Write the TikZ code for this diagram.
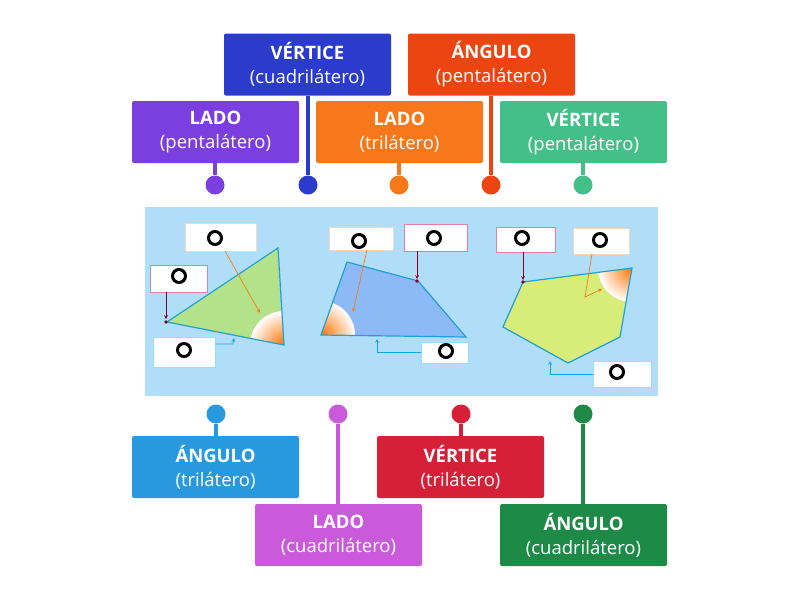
\documentclass[tikz,border=0pt]{standalone}
\usepackage{fontspec}
\setmainfont{Open Sans}
\begin{document}
\begin{tikzpicture}[x=1pt,y=-1pt,
 lab/.style={fill=#1,rounded corners=2pt,text=white,align=center,inner sep=0pt,minimum width=167pt,minimum height=62pt,font=\fontsize{18.5}{24}\selectfont},
 stem/.style={draw=#1,line width=4pt},
 dotc/.style={circle,fill=#1,inner sep=0pt,minimum size=19pt},
 ansbox/.style={draw=#1,fill=white,line width=0.8pt,inner sep=0pt},
 ring/.style={circle,draw=black,line width=3pt,inner sep=0pt,minimum size=13pt},
 poly/.style={draw=cyan!70!teal,line width=1.2pt},
 pa/.style={draw=purple!70!black,line width=0.7pt,->,>=stealth},
 oa/.style={draw=orange!80!brown,line width=0.7pt,->,>=stealth},
 ca/.style={draw=cyan!80!teal,line width=0.7pt,->,>=stealth}]
\useasboundingbox (0,0) rectangle (800,600);
\definecolor{cpur}{HTML}{7B3FE0}\definecolor{cblu}{HTML}{2B3BCB}
\definecolor{cora}{HTML}{F7781A}\definecolor{cred}{HTML}{EC4512}
\definecolor{cgrn}{HTML}{45BF88}\definecolor{clbl}{HTML}{2899DE}
\definecolor{corc}{HTML}{C95ADA}\definecolor{ccri}{HTML}{D52038}
\definecolor{cdgr}{HTML}{1E8A48}\definecolor{bgc}{HTML}{B0DDF8}
\definecolor{ftri}{HTML}{B4E28A}\definecolor{fquad}{HTML}{8DBAF6}\definecolor{fpen}{HTML}{D8EC7A}
% picture
\fill[bgc] (145,207) rectangle (658,396);
% triangle
\fill[ftri] (167,322)--(278,248)--(284,345)--cycle;
\begin{scope}\clip (167,322)--(278,248)--(284,345)--cycle;
\shade[inner color=orange!90!red,outer color=white] (284,345) circle (34);\end{scope}
\draw[poly] (167,322)--(278,248)--(284,345)--cycle;
% quad
\fill[fquad] (347,262)--(418,281)--(466,337)--(321,335)--cycle;
\begin{scope}\clip (347,262)--(418,281)--(466,337)--(321,335)--cycle;
\shade[inner color=orange!90!red,outer color=white] (321,335) circle (34);\end{scope}
\draw[poly] (347,262)--(418,281)--(466,337)--(321,335)--cycle;
% pentagon
\fill[fpen] (523,282)--(632,268)--(620,337)--(568,363)--(503,327)--cycle;
\begin{scope}\clip (523,282)--(632,268)--(620,337)--(568,363)--(503,327)--cycle;
\shade[inner color=orange!90!red,outer color=white] (632,268) circle (34);\end{scope}
\draw[poly] (523,282)--(632,268)--(620,337)--(568,363)--(503,327)--cycle;
% answer boxes
\node[ansbox=brown!30,minimum width=71pt,minimum height=28pt] (t1) at (220.5,237) {};
\node[ansbox=purple!50,minimum width=57pt,minimum height=27pt] (t2) at (178.5,278.5) {};
\node[ansbox=cyan!40,minimum width=62pt,minimum height=30pt] (t3) at (184,352) {};
\node[ansbox=brown!30,minimum width=64pt,minimum height=23pt] (q1) at (361,238.5) {};
\node[ansbox=purple!50,minimum width=63pt,minimum height=27pt] (q2) at (435.5,237.5) {};
\node[ansbox=cyan!40,minimum width=47pt,minimum height=21pt] (q3) at (444.5,352.5) {};
\node[ansbox=purple!50,minimum width=59pt,minimum height=25pt] (p1) at (525.5,239.5) {};
\node[ansbox=brown!30,minimum width=56pt,minimum height=26pt] (p2) at (601,241) {};
\node[ansbox=cyan!40,minimum width=58pt,minimum height=26pt] (p3) at (622,374) {};
\foreach \n/\x/\y in {r1/215/238,r2/179/276,r3/184/350,r4/359/241,r5/434/238,r6/446/351,r7/522/238,r8/600/240,r9/617/372}
 \node[ring] (\n) at (\x,\y) {};
% pointers
\coordinate (ta) at (260,313); \coordinate (tb) at (166,319); \coordinate (tc) at (234,338);
\draw[oa] (225,251)--(ta);
\draw[pa] (166,292)--(tb); \fill[purple!70!black] (166,322) circle (1.8);
\draw[ca] (t3.east|-0,344)--(233,344)--(tc);
\coordinate (qa) at (353,312); \coordinate (qb) at (417,279); \coordinate (qc) at (377,339);
\draw[oa] (367,250)--(qa);
\draw[pa] (q2.south-|417,0)--(qb); \fill[purple!70!black] (417,281) circle (1.8);
\draw[ca] (q3.west)--(377,352.5)--(qc);
\coordinate (pa') at (602,289); \coordinate (pb) at (523,280); \coordinate (pc) at (550,361);
\draw[oa] (592,254)--(585,297)--(pa');
\draw[pa] (p1.south-|523,0)--(pb); \fill[purple!70!black] (523,282) circle (1.8);
\draw[ca] (p3.west)--(550,374)--(pc);
% top labels
\node[lab=cblu] (L1) at (307.5,64.5) {\textbf{VÉRTICE}\\(cuadrilátero)};
\node[lab=cred] (L2) at (491.5,64.5) {\textbf{ÁNGULO}\\(pentalátero)};
\node[dotc=cblu] (d1) at (308,185) {}; \draw[stem=cblu] (L1.south-|d1) -- (d1);
\node[dotc=cred] (d2) at (491,185) {}; \draw[stem=cred] (L2.south-|d2) -- (d2);
\node[lab=cpur] (L3) at (215.5,132) {\textbf{LADO}\\(pentalátero)};
\node[lab=cora] (L4) at (399.5,132) {\textbf{LADO}\\(trilátero)};
\node[lab=cgrn] (L5) at (583.5,132) {\textbf{VÉRTICE}\\(pentalátero)};
\node[dotc=cpur] (d3) at (215,185) {}; \draw[stem=cpur] (L3.south-|d3) -- (d3);
\node[dotc=cora] (d4) at (399,185) {}; \draw[stem=cora] (L4.south-|d4) -- (d4);
\node[dotc=cgrn] (d5) at (583,185) {}; \draw[stem=cgrn] (L5.south-|d5) -- (d5);
% bottom labels
\node[lab=clbl] (B1) at (215.5,467) {\textbf{ÁNGULO}\\(trilátero)};
\node[lab=corc] (B2) at (338.5,535) {\textbf{LADO}\\(cuadrilátero)};
\node[lab=ccri] (B3) at (460.5,467) {\textbf{VÉRTICE}\\(trilátero)};
\node[lab=cdgr] (B4) at (583.5,535) {\textbf{ÁNGULO}\\(cuadrilátero)};
\node[dotc=clbl] (e1) at (216,414) {}; \draw[stem=clbl] (e1) -- (B1.north-|e1);
\node[dotc=corc] (e2) at (338,414) {}; \draw[stem=corc] (e2) -- (B2.north-|e2);
\node[dotc=ccri] (e3) at (461,414) {}; \draw[stem=ccri] (e3) -- (B3.north-|e3);
\node[dotc=cdgr] (e4) at (583,414) {}; \draw[stem=cdgr] (e4) -- (B4.north-|e4);
\end{tikzpicture}
\end{document}
